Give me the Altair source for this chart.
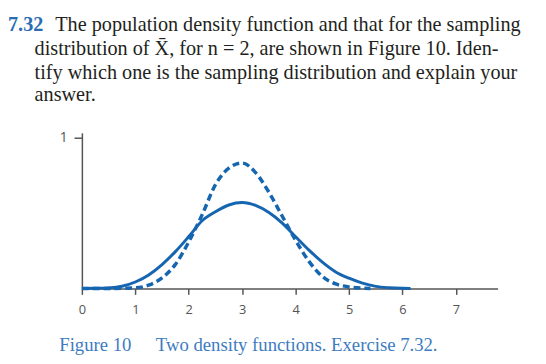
import altair as alt
import pandas as pd

# Population density (solid)
pop_x = [0, 0.25, 0.5, 0.75, 1.0, 1.25, 1.5, 1.75, 2.0, 2.25, 2.5, 2.75, 3.0,
         3.25, 3.5, 3.75, 4.0, 4.25, 4.5, 4.75, 5.0, 5.25, 5.5, 5.75, 6.0, 6.15]
pop_y = [0.0, 0.001, 0.004, 0.015, 0.043, 0.09, 0.159, 0.245, 0.345, 0.45, 0.51,
         0.555, 0.571, 0.552, 0.505, 0.435, 0.344, 0.255, 0.175, 0.11, 0.068,
         0.035, 0.014, 0.005, 0.001, 0.0]

# Sampling distribution of X-bar, n = 2 (dashed)
samp_x = [0, 0.5, 0.75, 1.0, 1.25, 1.5, 1.75, 2.0, 2.25, 2.5, 2.75, 3.0,
          3.25, 3.5, 3.75, 4.0, 4.25, 4.5, 4.75, 5.0, 5.25, 5.4]
samp_y = [0.0, 0.0, 0.001, 0.004, 0.022, 0.07, 0.16, 0.31, 0.49, 0.69, 0.80, 0.834,
          0.77, 0.64, 0.48, 0.32, 0.18, 0.08, 0.03, 0.01, 0.002, 0.0]

x_ticks = [0, 1, 2, 3, 4, 5, 6, 7]
y_ticks = [1]

question_lines = [
    "The population density function and that for the sampling",
    "distribution of X\u0304, for n  =  2, are shown in Figure 10. Iden-",
    "tify which one is the sampling distribution and explain your",
    "answer.",
]
exercise_no = "7.32"
caption_label = "Figure 10"
caption_text = "Two density functions. Exercise 7.32."

pop = pd.DataFrame({"x": pop_x, "y": pop_y})
samp = pd.DataFrame({"x": samp_x, "y": samp_y})

BLUE = "#1565b0"
AXC = "#555555"

xs = alt.Scale(domain=[0, 7.78], nice=False, zero=False)
ys = alt.Scale(domain=[0, 1.035], nice=False)

xax = alt.Axis(values=x_ticks, title=None, grid=False, domainColor=AXC, domainWidth=1.5,
               tickColor=AXC, tickWidth=1.5, tickSize=6, labelColor="#555555",
               labelFont="Open Sans", labelFontSize=13, labelPadding=9, labelFlush=False,
               format="d")
yax = alt.Axis(values=y_ticks, title=None, grid=False, domainColor=AXC, domainWidth=1.5,
               tickColor=AXC, tickWidth=1.5, tickSize=8, labelColor="#555555",
               labelFont="Open Sans", labelFontSize=14, labelPadding=7, format="d")

solid = alt.Chart(pop).mark_line(color=BLUE, strokeWidth=3, interpolate="monotone").encode(
    x=alt.X("x:Q", scale=xs, axis=xax),
    y=alt.Y("y:Q", scale=ys, axis=yax),
)
dashed = alt.Chart(samp).mark_line(color=BLUE, strokeWidth=3.5, strokeDash=[7, 4],
                                   interpolate="monotone").encode(
    x=alt.X("x:Q", scale=xs),
    y=alt.Y("y:Q", scale=ys),
)

one = alt.Data(values=[{}])

def txt(s, px, py, size=20.5, color="#231f20", weight="normal", font="Liberation Serif"):
    return alt.Chart(one).mark_text(text=s, align="left", baseline="alphabetic", fontSize=size,
                                    font=font, color=color, fontWeight=weight).encode(
        x=alt.value(px - 83), y=alt.value(py - 132))

layers = [solid, dashed,
          txt(exercise_no, 8, 29, color="#2a6db3", weight="bold"),
          txt(question_lines[0], 56, 29),
          txt(question_lines[1], 35, 53),
          txt(question_lines[2], 35, 77),
          txt(question_lines[3], 35, 100),
          txt(caption_label, 60, 353, size=19, color="#3d7cc0"),
          txt(caption_text, 158, 353, size=19, color="#3d7cc0"),
          ]

chart = alt.layer(*layers).properties(
    width=422, height=158,
    autosize=alt.AutoSizeParams(type="none"),
    padding={"left": 75, "top": 124, "right": 41, "bottom": 74},
).configure_view(stroke=None)

chart.save("out.html", embed_options={"renderer": "svg", "actions": False})
